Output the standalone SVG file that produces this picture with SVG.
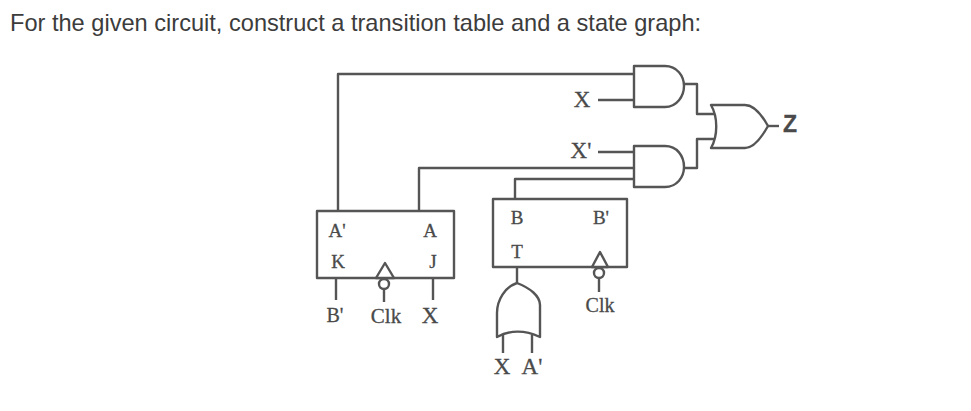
<svg xmlns="http://www.w3.org/2000/svg" width="971" height="411" viewBox="0 0 971 411">
<style>
.w{fill:none;stroke:#555;stroke-width:2.4;stroke-linejoin:round}
.g{fill:#fff;stroke:#555;stroke-width:2.4;stroke-linejoin:round}
.t{font-family:"Liberation Serif",serif;fill:#4a4a4a;font-size:19px;text-anchor:middle;stroke:#4a4a4a;stroke-width:.3}
.l{font-size:23px}
</style>
<rect width="971" height="411" fill="#fff"/>
<text x="10" y="31" font-family="Liberation Sans,sans-serif" font-size="23.6" fill="#3c3c3c">For the given circuit, construct a transition table and a state graph:</text>
<g id="connectors" class="w">
<path d="M338 211V74H634"/>
<path d="M419 211V168H634"/>
<path d="M515 199V179H634"/>
<path d="M598 100H634"/>
<path d="M598 152H634"/>
<path d="M684 84H697V114H716"/>
<path d="M684 168H697V139H716"/>
<path d="M768 126H779"/>
<path d="M336 278V300"/>
<path d="M433 278V300"/>
<path d="M384 289V302"/>
<path d="M517 267V284"/>
<path d="M599 278V292"/>
<path d="M503 335V353"/>
<path d="M532 335V353"/>
</g>
<g id="and1"><path class="g" d="M634 66H665C677 66 684 76 684 86C684 96 677 107 665 107H634Z"/></g>
<g id="and2"><path class="g" d="M634 146H665C677 146 684 156 684 167C684 177 677 187 665 187H634Z"/></g>
<g id="or1"><path class="g" d="M711 105H745C755 105 763 117 768 126C763 135 755 148 745 148H711C718 136 718 117 711 105Z"/></g>
<g id="ffA">
<rect class="w" x="317" y="211" width="137" height="67"/>
<path class="g" d="M376 278L385 263L394 278Z"/>
<circle class="g" cx="384" cy="284" r="5"/>
<text class="t" x="337" y="237">A'</text>
<text class="t" x="430" y="237">A</text>
<text class="t" x="338" y="268">K</text>
<text class="t" x="433" y="268">J</text>
</g>
<g id="ffB">
<rect class="w" x="493" y="199" width="134" height="68"/>
<path class="g" d="M592 267L600 252L608 267Z"/>
<circle class="g" cx="599" cy="273" r="5"/>
<text class="t" x="517" y="224">B</text>
<text class="t" x="601" y="224">B'</text>
<text class="t" x="517" y="258">T</text>
</g>
<g id="or2"><path class="g" d="M517 283C505 287 497 300 497 313V337C510 330 525 330 540 337V305C540 296 530 288 517 283Z"/></g>
<g id="labels">
<text class="t l" x="582" y="107">X</text>
<text class="t l" x="581" y="158">X'</text>
<text class="t" x="790" y="132" style="font-family:'Liberation Sans',sans-serif;font-size:23px;font-weight:bold">Z</text>
<text class="t" x="335" y="322" style="font-size:20px">B'</text>
<text class="t" x="386" y="323" style="font-size:21px">Clk</text>
<text class="t l" x="430" y="323">X</text>
<text class="t" x="600" y="312" style="font-size:20px">Clk</text>
<text class="t l" x="502" y="374">X</text>
<text class="t l" x="532" y="374">A'</text>
</g>
</svg>
